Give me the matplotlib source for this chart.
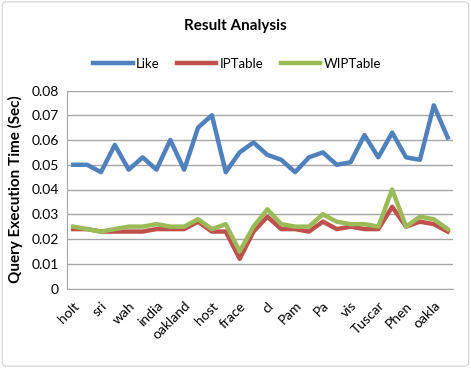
import matplotlib.pyplot as plt
from matplotlib.patches import FancyBboxPatch

# ------------------------------------------
# Daten
# ------------------------------------------
kategorien = list(range(28))
tick_labels = ["holt", "sri", "wah", "india", "oakland", "host", "frace",
               "cl", "Pam", "Pa", "vis", "Tuscar", "Phen", "oakla"]

like = [0.050, 0.050, 0.047, 0.058, 0.048, 0.053, 0.048, 0.060, 0.048, 0.065,
        0.070, 0.047, 0.055, 0.059, 0.054, 0.052, 0.047, 0.053, 0.055, 0.050,
        0.051, 0.062, 0.053, 0.063, 0.053, 0.052, 0.074, 0.061]
iptable = [0.024, 0.024, 0.023, 0.023, 0.023, 0.023, 0.024, 0.024, 0.024, 0.027,
           0.023, 0.023, 0.012, 0.023, 0.029, 0.024, 0.024, 0.023, 0.027, 0.024,
           0.025, 0.024, 0.024, 0.033, 0.025, 0.027, 0.026, 0.023]
wiptable = [0.025, 0.024, 0.023, 0.024, 0.025, 0.025, 0.026, 0.025, 0.025, 0.028,
            0.024, 0.026, 0.015, 0.025, 0.032, 0.026, 0.025, 0.025, 0.030, 0.027,
            0.026, 0.026, 0.025, 0.040, 0.025, 0.029, 0.028, 0.024]

y_ticks = [0, 0.01, 0.02, 0.03, 0.04, 0.05, 0.06, 0.07, 0.08]
y_labels = ["0", "0.01", "0.02", "0.03", "0.04", "0.05", "0.06", "0.07", "0.08"]

plt.rcParams["font.family"] = ["Lato", "DejaVu Sans"]

# ------------------------------------------
# Diagramm
# ------------------------------------------
fig = plt.figure(figsize=(4.71, 3.68), dpi=100)
ax = fig.add_axes([67 / 471, 1 - 288.5 / 368, (452.5 - 67) / 471, (288.5 - 90.5) / 368])

ax.plot(kategorien, like, color="#4F81BD", linewidth=3.2, label="Like")
ax.plot(kategorien, iptable, color="#C0504D", linewidth=3.2, label="IPTable")
ax.plot(kategorien, wiptable, color="#9BBB59", linewidth=3.2, label="WIPTable")

ax.set_xlim(-0.45, 27.35)
ax.set_ylim(0, 0.08)
ax.set_yticks(y_ticks)
ax.set_yticklabels(y_labels, fontsize=10)
ax.set_xticks(kategorien[::2])
ax.set_xticklabels(tick_labels, rotation=45, ha="right", rotation_mode="anchor", fontsize=10)
ax.tick_params(axis="both", length=0, pad=6)
ax.tick_params(axis="x", pad=8)

ax.grid(axis="y", color="#A6A6A6", linewidth=1)
ax.set_axisbelow(True)
for s in ["top", "right"]:
    ax.spines[s].set_visible(False)
ax.spines["left"].set_color("#A6A6A6")
ax.spines["bottom"].set_color("#A6A6A6")

ax.set_ylabel("Query Execution Time (Sec)", fontsize=11, fontweight="bold", labelpad=6)

fig.text(0.5, 1 - 26 / 368, "Result Analysis", ha="center", va="center",
         fontsize=11, fontweight="bold")
fig.legend(loc="center", bbox_to_anchor=(237 / 471, 1 - 64 / 368), ncol=3, frameon=False,
           fontsize=9.5, handlelength=3.0, columnspacing=1.3, handletextpad=0.25)

rahmen = FancyBboxPatch((0.005, 0.005), 0.99, 0.99, boxstyle="round,pad=0,rounding_size=0.01",
                        transform=fig.transFigure, fill=False, edgecolor="#D9D9D9", linewidth=1)
fig.patches.append(rahmen)

fig.savefig("out.png", dpi=100)
